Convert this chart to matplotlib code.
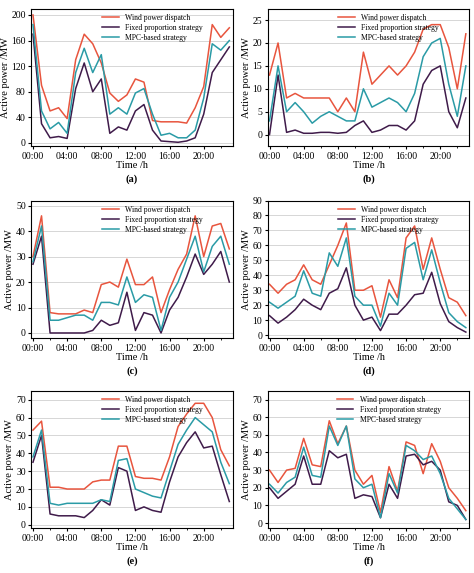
import numpy as np
import matplotlib.pyplot as plt
from matplotlib.ticker import MultipleLocator

plt.rcParams['font.family'] = ['Liberation Serif', 'DejaVu Serif']

hours = list(range(24))
tick_hours = [0, 4, 8, 12, 16, 20]
tick_labels = ['00:00', '04:00', '08:00', '12:00', '16:00', '20:00']

wind_a = [200, 90, 50, 55, 38, 130, 170, 155, 125, 78, 65, 75, 100, 95, 35, 33, 33, 33, 31, 55, 88, 185, 165, 180]
fixed_a = [170, 30, 8, 10, 7, 85, 125, 80, 100, 15, 25, 20, 50, 60, 20, 3, 2, 1, 3, 8, 45, 110, 130, 150]
mpc_a = [185, 50, 22, 32, 15, 110, 148, 110, 138, 45, 55, 45, 78, 85, 45, 12, 15, 8, 8, 20, 70, 155, 145, 160]

wind_b = [13, 20, 8, 9, 8, 8, 8, 8, 5, 8, 5, 18, 11, 13, 15, 13, 15, 18, 23, 24, 24, 19, 10, 22]
fixed_b = [0, 13, 0.5, 1, 0.3, 0.3, 0.5, 0.5, 0.3, 0.5, 2, 3, 0.5, 1, 2, 2, 1, 3, 11, 14, 15, 5, 1.5, 8]
mpc_b = [3, 15, 5, 7, 5, 2.5, 4, 5, 4, 3, 3, 10, 6, 7, 8, 7, 5, 9, 17, 20, 21, 11, 4, 15]

wind_c = [30, 46, 8, 7.5, 7.5, 7.5, 9, 8, 19, 20, 18, 29, 19, 19, 22, 8, 17, 25, 31, 46, 30, 42, 43, 33]
fixed_c = [27, 38, 0, 0, 0, 0, 0, 1, 5, 3, 4, 16, 1, 8, 7, 0, 9, 14, 22, 31, 23, 27, 32, 20]
mpc_c = [28, 42, 5, 5, 6, 7, 7, 5, 12, 12, 11, 22, 12, 15, 14, 1, 14, 20, 29, 38, 24, 34, 38, 27]

wind_d = [34, 28, 34, 37, 47, 37, 34, 47, 60, 75, 30, 30, 33, 12, 37, 25, 65, 73, 44, 65, 44, 25, 22, 13]
fixed_d = [13, 8, 12, 17, 24, 20, 17, 28, 31, 45, 20, 10, 12, 3, 14, 14, 20, 27, 28, 42, 21, 9, 5, 2]
mpc_d = [22, 18, 22, 26, 43, 28, 26, 55, 46, 65, 26, 20, 20, 6, 28, 20, 58, 62, 37, 57, 35, 15, 9, 5]

wind_e = [53, 58, 21, 21, 20, 20, 20, 24, 25, 25, 44, 44, 27, 26, 26, 25, 38, 55, 62, 68, 68, 60, 42, 33]
fixed_e = [35, 50, 6, 5, 5, 5, 4, 8, 14, 11, 32, 30, 8, 10, 8, 7, 24, 38, 46, 52, 43, 44, 28, 13]
mpc_e = [38, 53, 12, 11, 12, 12, 12, 12, 14, 13, 36, 37, 20, 18, 16, 15, 30, 45, 53, 60, 56, 52, 35, 23]

wind_f = [30, 23, 30, 31, 48, 33, 32, 58, 45, 55, 30, 22, 27, 6, 32, 18, 46, 44, 28, 45, 35, 20, 14, 7]
fixed_f = [20, 14, 18, 22, 38, 22, 22, 41, 37, 39, 14, 16, 15, 3, 22, 14, 38, 39, 33, 35, 30, 12, 10, 2]
mpc_f = [22, 17, 23, 26, 43, 27, 26, 55, 44, 55, 25, 20, 22, 3, 28, 17, 44, 41, 36, 38, 28, 14, 8, 2]

panels = [
    ('(a)', wind_a, fixed_a, mpc_a, (-5, 210), 40, 'Fixed proportion strategy'),
    ('(b)', wind_b, fixed_b, mpc_b, (-2.5, 27.5), 5, 'Fixed proportion strategy'),
    ('(c)', wind_c, fixed_c, mpc_c, (-2, 52), 10, 'Fixed proportion strategy'),
    ('(d)', wind_d, fixed_d, mpc_d, (-2, 90), 10, 'Fixed proportion strategy'),
    ('(e)', wind_e, fixed_e, mpc_e, (-2, 75), 10, 'Fixed proportion strategy'),
    ('(f)', wind_f, fixed_f, mpc_f, (-3, 75), 10, 'Fixed proporation strategy'),
]

fig = plt.figure(figsize=(4.74, 5.73), dpi=100)
lefts = [0.066, 0.565]
bottoms = [0.745, 0.41, 0.078]

for i, (cap, w, f, m, ylim, step, flabel) in enumerate(panels):
    ax = fig.add_axes([lefts[i % 2], bottoms[i // 2], 0.425, 0.24])
    ax.plot(hours, w, color='#E8553E', lw=1.1, label='Wind power dispatch')
    ax.plot(hours, f, color='#3F1B4A', lw=1.1, label=flabel)
    ax.plot(hours, m, color='#2A9BA6', lw=1.1, label='MPC-based strategy')
    ax.set_xlim(-0.2, 23.4)
    ax.set_ylim(*ylim)
    ax.set_xticks(tick_hours)
    ax.set_xticklabels(tick_labels)
    ax.xaxis.set_minor_locator(MultipleLocator(2))
    ax.yaxis.set_major_locator(MultipleLocator(step))
    ax.grid(axis='y', color='#d0d0d0', lw=0.6)
    ax.tick_params(labelsize=7, length=2.5, pad=1.5)
    ax.tick_params(which='minor', length=1.5)
    ax.set_xlabel('Time /h', fontsize=7.5, labelpad=0)
    ax.set_ylabel('Active power /MW', fontsize=7.5, labelpad=1)
    ax.legend(loc='upper center', bbox_to_anchor=(0.6, 1.0), frameon=False,
              fontsize=5.5, handlelength=2.2, labelspacing=0.25, borderaxespad=0.3)
    ax.text(0.5, -0.205, cap, transform=ax.transAxes, ha='center', va='top',
            fontsize=7.5, fontweight='bold')

fig.savefig('out.png', dpi=100)
